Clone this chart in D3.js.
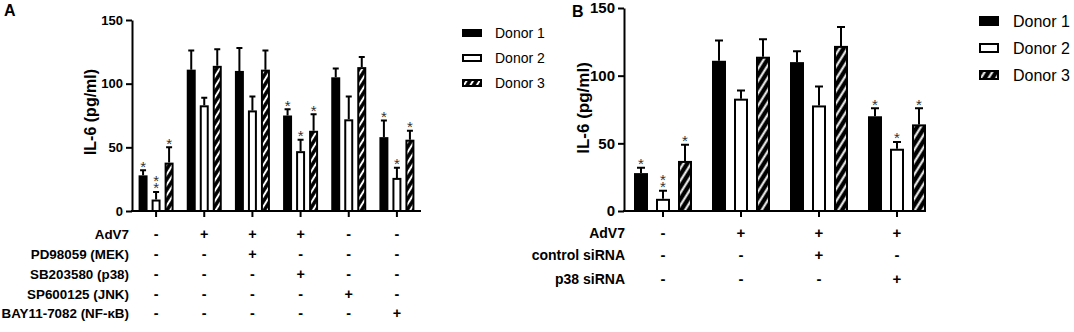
<!DOCTYPE html>
<html>
<head>
<meta charset="utf-8">
<script src="https://cdn.jsdelivr.net/npm/d3@7"></script>
<style>
  body { margin: 0; background: #fff; }
  svg text { font-family: "Liberation Sans", Arial, sans-serif; fill: #000; }
</style>
</head>
<body>
<script>
// ---- data ----
var donors = ["Donor 1", "Donor 2", "Donor 3"];

// panel A
var groupsA = ["a1", "a2", "a3", "a4", "a5", "a6"];
var meanA1 = [28, 111, 110, 75, 105, 58];
var meanA2 = [9, 83, 79, 47, 72, 26];
var meanA3 = [38, 114, 111, 63, 113, 56];
var errA1 = [4, 15, 18, 5, 7, 13];
var errA2 = [6, 6, 11, 9, 18, 8];
var errA3 = [12, 13, 15, 13, 8, 7];
var starsA1 = [1, 0, 0, 1, 0, 1];
var starsA2 = [2, 0, 0, 1, 0, 1];
var starsA3 = [1, 0, 0, 1, 0, 1];
var rowLabelsA = ["AdV7", "PD98059 (MEK)", "SB203580 (p38)", "SP600125 (JNK)", "BAY11-7082 (NF-κB)"];
var signsA = [
  ["-", "+", "+", "+", "-", "-"],
  ["-", "-", "+", "-", "-", "-"],
  ["-", "-", "-", "+", "-", "-"],
  ["-", "-", "-", "-", "+", "-"],
  ["-", "-", "-", "-", "-", "+"]
];

// panel B
var groupsB = ["b1", "b2", "b3", "b4"];
var meanB1 = [28, 111, 110, 70];
var meanB2 = [9, 83, 78, 46];
var meanB3 = [37, 114, 122, 64];
var errB1 = [4, 15, 8, 6];
var errB2 = [6, 6, 14, 5];
var errB3 = [12, 13, 14, 12];
var starsB1 = [1, 0, 0, 1];
var starsB2 = [2, 0, 0, 1];
var starsB3 = [1, 0, 0, 1];
var rowLabelsB = ["AdV7", "control siRNA", "p38 siRNA"];
var signsB = [
  ["-", "+", "+", "+"],
  ["-", "-", "+", "-"],
  ["-", "-", "-", "+"]
];

var yTicks = [0, 50, 100, 150];

var svg = d3.select("body").append("svg")
  .attr("width", 1074)
  .attr("height", 332);

// hatch pattern for donor 3
var defs = svg.append("defs");
function hatch(id, gap) {
  var p = defs.append("pattern")
    .attr("id", id)
    .attr("patternUnits", "userSpaceOnUse")
    .attr("width", gap)
    .attr("height", gap)
    .attr("patternTransform", "rotate(32)");
  p.append("rect").attr("width", gap).attr("height", gap).attr("fill", "#000");
  p.append("line")
    .attr("x1", gap / 2).attr("x2", gap / 2)
    .attr("y1", 0).attr("y2", gap)
    .attr("stroke", "#fff").attr("stroke-width", 2);
}
hatch("hatchA", 5.5);
hatch("hatchB", 6.5);

function drawPanel(cfg) {
  var g = svg.append("g");

  var y = d3.scaleLinear().domain([0, 150]).range([cfg.y0, cfg.y150]);
  var x = d3.scaleBand().domain(cfg.groups).range(cfg.xRange);
  var xi = d3.scaleBand().domain(donors)
    .range([-cfg.innerHalf, cfg.innerHalf])
    .paddingInner(cfg.innerPad);

  var fills = ["#000", "#fff", "url(#" + cfg.hatch + ")"];

  // rows of bars
  var rows = [];
  cfg.means.forEach(function(m, di) {
    m.forEach(function(v, gi) {
      rows.push({ donor: donors[di], di: di, group: cfg.groups[gi], v: v, e: cfg.errs[di][gi], s: cfg.stars[di][gi] });
    });
  });

  // error bars (up only)
  g.selectAll(".err")
    .data(rows)
    .join("path")
    .attr("class", "err")
    .attr("d", function(d) {
      var cx = x(d.group) + x.bandwidth() / 2 + xi(d.donor) + xi.bandwidth() / 2;
      var top = y(d.v + d.e);
      var c = cfg.cap;
      return "M" + cx + "," + y(d.v) + "V" + top + "M" + (cx - c) + "," + top + "H" + (cx + c);
    })
    .attr("stroke", "#000")
    .attr("stroke-width", 2)
    .attr("fill", "none");

  g.selectAll(".bar")
    .data(rows)
    .join("rect")
    .attr("class", "bar")
    .attr("x", function(d) { return x(d.group) + x.bandwidth() / 2 + xi(d.donor) + 1; })
    .attr("width", xi.bandwidth() - 2)
    .attr("y", function(d) { return y(d.v) + 1; })
    .attr("height", function(d) { return y(0) - y(d.v) - 1; })
    .attr("fill", function(d) { return fills[d.di]; })
    .attr("stroke", "#000")
    .attr("stroke-width", 2);

  // asterisks (stacked ones go into one text element)
  g.selectAll(".star")
    .data(rows.filter(function(d) { return d.s > 0; }))
    .join("text")
    .attr("class", "star")
    .attr("text-anchor", "middle")
    .style("font-size", cfg.starSize + "px")
    .style("fill", "#333")
    .each(function(d) {
      var cx = x(d.group) + x.bandwidth() / 2 + xi(d.donor) + xi.bandwidth() / 2;
      var base = y(d.v + d.e) + 1.5;
      var t = d3.select(this);
      for (var k = d.s - 1; k >= 0; k--) {
        t.append("tspan")
          .attr("x", cx)
          .attr("y", base - k * cfg.starGap)
          .text("*");
      }
    });

  // y axis
  var yAxis = g.append("g")
    .attr("transform", "translate(" + cfg.xRange[0] + ",0)")
    .call(d3.axisLeft(y).tickValues(yTicks).tickSize(6).tickSizeOuter(0).tickPadding(3));
  yAxis.select(".domain").attr("stroke-width", 2);
  yAxis.selectAll(".tick line").attr("stroke-width", 2);
  yAxis.selectAll(".tick text")
    .style("font-size", cfg.tickSize + "px")
    .style("font-weight", "bold")
    .style("font-family", "Liberation Sans, Arial, sans-serif");

  // x axis
  var xAxis = g.append("g")
    .attr("transform", "translate(0," + cfg.y0 + ")")
    .call(d3.axisBottom(x).tickSize(6).tickSizeOuter(0).tickFormat(""));
  xAxis.select(".domain").remove();
  xAxis.selectAll(".tick line").attr("stroke-width", 2);
  g.append("line")
    .attr("x1", cfg.xRange[0] - 1).attr("x2", cfg.xEnd)
    .attr("y1", cfg.y0).attr("y2", cfg.y0)
    .attr("stroke", "#000").attr("stroke-width", 2);

  // y title
  g.append("text")
    .attr("transform", "translate(" + cfg.titleX + "," + cfg.titleY + ") rotate(-90)")
    .attr("text-anchor", "middle")
    .style("font-size", cfg.titleSize + "px")
    .style("font-weight", "bold")
    .text("IL-6 (pg/ml)");

  // panel letter
  g.append("text")
    .attr("x", cfg.letterX).attr("y", cfg.letterY)
    .style("font-size", "16px")
    .style("font-weight", "bold")
    .text(cfg.letter);

  // condition table
  cfg.rowLabels.forEach(function(lab, ri) {
    var ry = cfg.rowY[ri];
    g.append("text")
      .attr("x", cfg.labelX).attr("y", ry)
      .attr("text-anchor", "end")
      .attr("dy", "0.35em")
      .style("font-size", cfg.rowSize + "px")
      .style("font-weight", "bold")
      .text(lab);
    g.selectAll(".sign" + ri)
      .data(cfg.signs[ri])
      .join("text")
      .attr("x", function(d, i) { return x(cfg.groups[i]) + x.bandwidth() / 2; })
      .attr("y", ry)
      .attr("dy", "0.35em")
      .attr("text-anchor", "middle")
      .style("font-size", (cfg.rowSize + 1) + "px")
      .style("font-weight", "bold")
      .text(function(d) { return d; });
  });

  // legend
  var leg = g.selectAll(".leg")
    .data(donors)
    .join("g")
    .attr("transform", function(d, i) { return "translate(" + cfg.legX + "," + (cfg.legY + i * cfg.legGap) + ")"; });
  leg.append("rect")
    .attr("x", 1).attr("y", -cfg.swH / 2)
    .attr("width", 18).attr("height", cfg.swH)
    .attr("fill", function(d, i) { return fills[i]; })
    .attr("stroke", "#000").attr("stroke-width", 2);
  leg.append("text")
    .attr("x", cfg.legTextDx).attr("y", 0).attr("dy", "0.35em")
    .style("font-size", cfg.legSize + "px")
    .text(function(d) { return d; });
}

drawPanel({
  letter: "A", letterX: 4, letterY: 16,
  groups: groupsA,
  means: [meanA1, meanA2, meanA3],
  errs: [errA1, errA2, errA3],
  stars: [starsA1, starsA2, starsA3],
  y0: 211, y150: 20,
  xRange: [132, 421], xEnd: 421,
  innerHalf: 17.5, innerPad: 0.31, cap: 3,
  hatch: "hatchA",
  starSize: 15, starGap: 7,
  tickSize: 13,
  titleX: 96, titleY: 112, titleSize: 16,
  rowLabels: rowLabelsA, signs: signsA,
  rowY: [234, 254, 274, 294, 313], labelX: 129, rowSize: 13.4,
  legX: 462, legY: 33, legGap: 25, swH: 6, legTextDx: 33, legSize: 14
});

drawPanel({
  letter: "B", letterX: 572, letterY: 17,
  groups: groupsB,
  means: [meanB1, meanB2, meanB3],
  errs: [errB1, errB2, errB3],
  stars: [starsB1, starsB2, starsB3],
  y0: 211, y150: 8,
  xRange: [624, 936], xEnd: 922,
  innerHalf: 29, innerPad: 0.364, cap: 4,
  hatch: "hatchB",
  starSize: 15, starGap: 7,
  tickSize: 15,
  titleX: 589, titleY: 108, titleSize: 17,
  rowLabels: rowLabelsB, signs: signsB,
  rowY: [233, 255, 279], labelX: 625, rowSize: 14,
  legX: 979, legY: 21, legGap: 27, swH: 8, legTextDx: 34, legSize: 16
});
</script>
</body>
</html>
